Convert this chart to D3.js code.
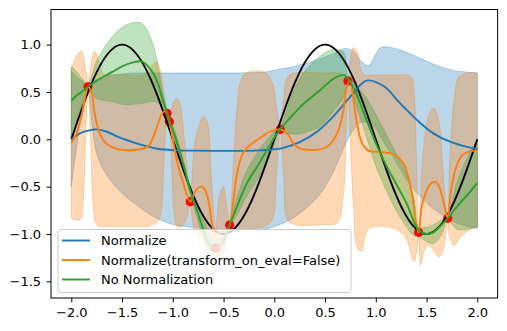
<!DOCTYPE html>
<html><head><meta charset="utf-8">
<script src="https://cdn.jsdelivr.net/npm/d3@7"></script>
<style>body{margin:0;background:#fff}svg text{font-family:"DejaVu Sans",sans-serif}</style>
</head><body><svg id="c" width="507" height="331"></svg>
<script>
const truthX = [-2.0,-1.9,-1.8,-1.7,-1.6,-1.5,-1.4,-1.3,-1.2,-1.1,-1.0,-0.9,-0.8,-0.7,-0.6,-0.5,-0.4,-0.3,-0.2,-0.1,0.0,0.1,0.2,0.3,0.4,0.5,0.6,0.7,0.8,0.9,1.0,1.1,1.2,1.3,1.4,1.5,1.6,1.7,1.8,1.9,2.0];
const truthY = [0,0.31,0.59,0.81,0.95,1.0,0.95,0.81,0.59,0.31,0,-0.31,-0.59,-0.81,-0.95,-1.0,-0.95,-0.81,-0.59,-0.31,0,0.31,0.59,0.81,0.95,1.0,0.95,0.81,0.59,0.31,0,-0.31,-0.59,-0.81,-0.95,-1.0,-0.95,-0.81,-0.59,-0.31,0];

const trainX = [-1.835,-1.057,-1.034,-0.828,-0.58,-0.44,0.059,0.726,1.422,1.708];
const trainY = [0.555,0.274,0.186,-0.659,-1.15,-0.905,0.105,0.616,-0.982,-0.834];

const blueX = [-2.0,-1.9,-1.8,-1.75,-1.65,-1.55,-1.45,-1.35,-1.25,-1.15,-1.0,-0.8,-0.5,-0.2,-0.05,0.09,0.25,0.42,0.58,0.75,0.91,1.08,1.24,1.41,1.57,1.73,1.9,2.0];
const blueMean = [0.0,0.07,0.10,0.105,0.08,0.03,-0.01,-0.045,-0.075,-0.10,-0.115,-0.12,-0.122,-0.12,-0.11,-0.09,-0.03,0.08,0.24,0.45,0.62,0.56,0.38,0.2,0.06,-0.025,-0.08,-0.10];
const blueBandX = [-2.0,-1.95,-1.9,-1.835,-1.8,-1.75,-1.65,-1.5,-1.35,-1.2,-1.0,-0.7,-0.4,-0.1,0.0,0.1,0.2,0.3,0.4,0.5,0.6,0.7,0.78,0.86,0.93,1.0,1.05,1.15,1.3,1.45,1.6,1.75,1.9,2.0];
const blueUpper = [0.72,0.66,0.62,0.56,0.59,0.62,0.67,0.69,0.70,0.70,0.70,0.70,0.70,0.71,0.73,0.75,0.77,0.80,0.83,0.87,0.91,0.96,0.93,0.82,0.78,0.9,0.97,0.97,0.92,0.85,0.78,0.73,0.71,0.70];
const blueLower = [-0.5,-0.1,0.25,0.52,0.2,-0.15,-0.38,-0.57,-0.7,-0.81,-0.9,-0.94,-0.95,-0.95,-0.92,-0.88,-0.82,-0.74,-0.64,-0.5,-0.3,-0.05,0.1,0.18,0.17,0.12,0.02,-0.15,-0.42,-0.62,-0.76,-0.86,-0.92,-0.94];

const orangeX = [-2.0,-1.95,-1.9,-1.87,-1.835,-1.8,-1.77,-1.72,-1.66,-1.57,-1.41,-1.25,-1.19,-1.12,-1.08,-1.057,-1.034,-1.0,-0.95,-0.9,-0.828,-0.78,-0.73,-0.69,-0.65,-0.614,-0.58,-0.52,-0.48,-0.44,-0.41,-0.37,-0.33,-0.28,-0.2,-0.12,-0.04,0.059,0.125,0.22,0.35,0.52,0.62,0.68,0.716,0.749,0.78,0.815,0.864,0.93,1.0,1.1,1.18,1.27,1.32,1.36,1.39,1.422,1.45,1.49,1.54,1.59,1.635,1.685,1.708,1.74,1.79,1.85,1.92,2.0];
const orangeMean = [-0.04,0.06,0.24,0.41,0.555,0.49,0.27,0.06,-0.04,-0.095,-0.115,-0.08,0.03,0.24,0.30,0.27,0.18,0.0,-0.27,-0.45,-0.66,-0.55,-0.5,-0.52,-0.64,-0.89,-1.02,-0.97,-0.98,-0.905,-0.7,-0.38,-0.2,-0.1,-0.03,0.03,0.08,0.105,0.063,-0.078,-0.113,-0.078,0.063,0.3,0.56,0.62,0.42,0.17,-0.04,-0.12,-0.13,-0.14,-0.16,-0.25,-0.4,-0.6,-0.85,-0.985,-0.72,-0.57,-0.47,-0.45,-0.53,-0.75,-0.83,-0.55,-0.3,-0.17,-0.13,-0.12];
const orangeBandX = [-2.0,-1.96,-1.92,-1.90,-1.88,-1.86,-1.835,-1.81,-1.79,-1.77,-1.75,-1.72,-1.68,-1.5,-1.3,-1.24,-1.2,-1.16,-1.12,-1.09,-1.057,-1.045,-1.034,-1.01,-0.99,-0.96,-0.93,-0.9,-0.87,-0.828,-0.79,-0.75,-0.7,-0.66,-0.62,-0.58,-0.54,-0.5,-0.47,-0.44,-0.41,-0.37,-0.33,-0.28,-0.1,-0.02,0.02,0.059,0.09,0.13,0.2,0.5,0.62,0.68,0.71,0.726,0.745,0.78,0.82,0.86,0.9,0.95,1.2,1.3,1.35,1.38,1.40,1.422,1.44,1.47,1.52,1.57,1.62,1.66,1.69,1.708,1.73,1.77,1.82,1.9,2.0];
const orangeUpper = [0.75,0.85,0.92,0.93,0.88,0.75,0.59,0.75,0.88,0.93,0.9,0.78,0.69,0.68,0.68,0.72,0.79,0.82,0.72,0.5,0.3,0.28,0.2,0.32,0.4,0.43,0.38,0.15,-0.2,-0.62,-0.1,0.12,0.24,0.18,-0.4,-0.95,-0.6,-0.5,-0.7,-0.88,-0.4,0.3,0.62,0.70,0.71,0.6,0.35,0.12,0.4,0.66,0.70,0.70,0.70,0.68,0.64,0.63,0.8,0.97,0.92,0.72,0.68,0.68,0.68,0.68,0.66,0.45,-0.2,-0.95,-0.6,-0.1,0.25,0.33,0.2,-0.3,-0.7,-0.8,-0.2,0.4,0.66,0.70,0.70];
const orangeLower = [-0.83,-0.85,-0.85,-0.82,-0.6,0.0,0.52,0.0,-0.6,-0.85,-0.9,-0.92,-0.92,-0.92,-0.92,-0.92,-0.9,-0.88,-0.8,-0.3,0.25,0.18,0.17,-0.3,-0.75,-0.92,-0.93,-0.9,-0.85,-0.7,-0.95,-1.0,-1.05,-1.12,-1.2,-1.1,-1.25,-1.2,-1.05,-0.93,-0.97,-0.97,-0.97,-0.95,-0.92,-0.85,-0.4,0.09,-0.35,-0.85,-0.9,-0.9,-0.88,-0.6,0.2,0.58,0.1,-0.7,-1.15,-1.18,-1.0,-0.93,-0.95,-1.05,-1.22,-1.29,-1.2,-1.02,-1.33,-1.2,-1.12,-1.18,-1.24,-1.18,-1.0,-0.86,-1.05,-1.12,-1.05,-0.97,-0.93];

const greenX = [-2.0,-1.95,-1.9,-1.835,-1.75,-1.6,-1.5,-1.4,-1.3,-1.2,-1.15,-1.1,-1.057,-1.034,-1.0,-0.926,-0.828,-0.762,-0.697,-0.647,-0.58,-0.515,-0.44,-0.368,-0.27,-0.17,-0.072,0.026,0.059,0.15,0.256,0.35,0.453,0.584,0.683,0.726,0.8,0.9,1.0,1.1,1.2,1.3,1.38,1.422,1.5,1.57,1.65,1.708,1.8,1.9,2.0];
const greenMean = [0.41,0.46,0.50,0.555,0.62,0.71,0.77,0.81,0.82,0.71,0.60,0.42,0.28,0.19,0.1,-0.15,-0.54,-0.75,-0.96,-1.1,-1.15,-1.1,-0.905,-0.71,-0.465,-0.29,-0.113,0.063,0.105,0.22,0.34,0.43,0.52,0.64,0.68,0.64,0.5,0.23,-0.04,-0.27,-0.47,-0.67,-0.88,-0.96,-1.0,-0.98,-0.9,-0.835,-0.71,-0.59,-0.46];
const greenUpper = [0.77,0.72,0.65,0.59,0.83,1.08,1.18,1.23,1.22,1.02,0.8,0.5,0.31,0.21,0.14,-0.1,-0.5,-0.68,-0.86,-0.98,-1.05,-1.02,-0.88,-0.62,-0.33,-0.15,0.0,0.1,0.12,0.4,0.65,0.78,0.88,0.95,0.92,0.66,0.58,0.45,0.26,0.06,-0.15,-0.36,-0.65,-0.92,-0.93,-0.9,-0.85,-0.82,-0.45,-0.2,0.0];
const greenLower = [0.02,0.2,0.36,0.52,0.43,0.40,0.37,0.37,0.38,0.40,0.39,0.34,0.25,0.17,0.06,-0.2,-0.58,-0.82,-1.06,-1.22,-1.25,-1.18,-0.93,-0.8,-0.6,-0.43,-0.25,0.03,0.09,0.06,0.06,0.09,0.14,0.3,0.45,0.61,0.38,0.05,-0.28,-0.53,-0.75,-0.92,-1.02,-1.02,-1.08,-1.1,-1.0,-0.85,-0.95,-0.95,-0.92];

const xTicks = [-2.0,-1.5,-1.0,-0.5,0.0,0.5,1.0,1.5,2.0];
const yTicks = [-1.5,-1.0,-0.5,0.0,0.5,1.0];
const seriesNames = ["Normalize","Normalize(transform_on_eval=False)","No Normalization"];
const seriesColors = ["#1f77b4","#ff7f0e","#2ca02c"];

const svg = d3.select("#c");
const L = 51, R = 497.6, T = 9.5, B = 298;
const x = d3.scaleLinear().domain([-2.2, 2.2]).range([L, R]);
const y = d3.scaleLinear().domain([-1.676, 1.371]).range([B, T]);

svg.append("clipPath").attr("id","clip").append("rect").attr("x",L).attr("y",T).attr("width",R-L).attr("height",B-T);
const g = svg.append("g").attr("clip-path","url(#clip)");

const smooth = d3.curveCatmullRom.alpha(0.5);
const band = (xs, lo, hi) => d3.area().curve(smooth)
  .x((d,i)=>x(xs[i])).y0((d,i)=>y(lo[i])).y1((d,i)=>y(hi[i]))(xs);
const line = (xs, ys, curve) => d3.line().curve(curve || smooth)
  .x((d,i)=>x(xs[i])).y((d,i)=>y(ys[i]))(xs);

const bands = [[blueBandX, blueLower, blueUpper],[orangeBandX, orangeLower, orangeUpper],[greenX, greenLower, greenUpper]];
bands.forEach((b,i)=>{
  g.append("path").attr("d", band(b[0], b[1], b[2]))
    .attr("fill", seriesColors[i]).attr("fill-opacity",0.3)
    .attr("stroke", seriesColors[i]).attr("stroke-opacity",0.3).attr("stroke-width",1);
});

g.selectAll("circle.pt").data(trainX).enter().append("circle")
  .attr("cx",(d)=>x(d)).attr("cy",(d,i)=>y(trainY[i])).attr("r",4.6).attr("fill","red");

g.append("path").attr("d", line(truthX, truthY, d3.curveNatural)).attr("fill","none").attr("stroke","black").attr("stroke-width",1.9);
const means = [[blueX, blueMean],[orangeX, orangeMean],[greenX, greenMean]];
means.forEach((m,i)=>{
  g.append("path").attr("d", line(m[0], m[1])).attr("fill","none")
    .attr("stroke", seriesColors[i]).attr("stroke-width",1.9).attr("stroke-linejoin","round");
});

// axes
const fmt = d3.format(".1f");
const xa = svg.append("g").attr("transform",`translate(0,${B})`)
  .call(d3.axisBottom(x).tickValues(xTicks).tickFormat(fmt).tickSize(4.4).tickSizeOuter(0).tickPadding(5));
const ya = svg.append("g").attr("transform",`translate(${L},0)`)
  .call(d3.axisLeft(y).tickValues(yTicks).tickFormat(fmt).tickSize(4.4).tickSizeOuter(0).tickPadding(5.5));
[xa, ya].forEach(a=>{
  a.select(".domain").remove();
  a.selectAll("line").attr("stroke","#000").attr("stroke-width",1);
  a.selectAll("text").attr("font-size","13px").attr("fill","#000").attr("font-family","DejaVu Sans");
});
svg.append("rect").attr("x",L).attr("y",T).attr("width",R-L).attr("height",B-T)
  .attr("fill","none").attr("stroke","#000").attr("stroke-width",1);

// legend
const lg = svg.append("g");
lg.append("rect").attr("x",58).attr("y",229.5).attr("width",293).attr("height",63).attr("rx",3)
  .attr("fill","#fff").attr("fill-opacity",0.8).attr("stroke","#cccccc").attr("stroke-width",1);
seriesNames.forEach((n,i)=>{
  const yy = 240.5 + i*19.5;
  lg.append("line").attr("x1",62).attr("x2",90).attr("y1",yy).attr("y2",yy)
    .attr("stroke",seriesColors[i]).attr("stroke-width",1.9);
  lg.append("text").attr("x",101).attr("y",yy+4.6).attr("font-size","13px").attr("fill","#000").text(n);
});
</script></body></html>
